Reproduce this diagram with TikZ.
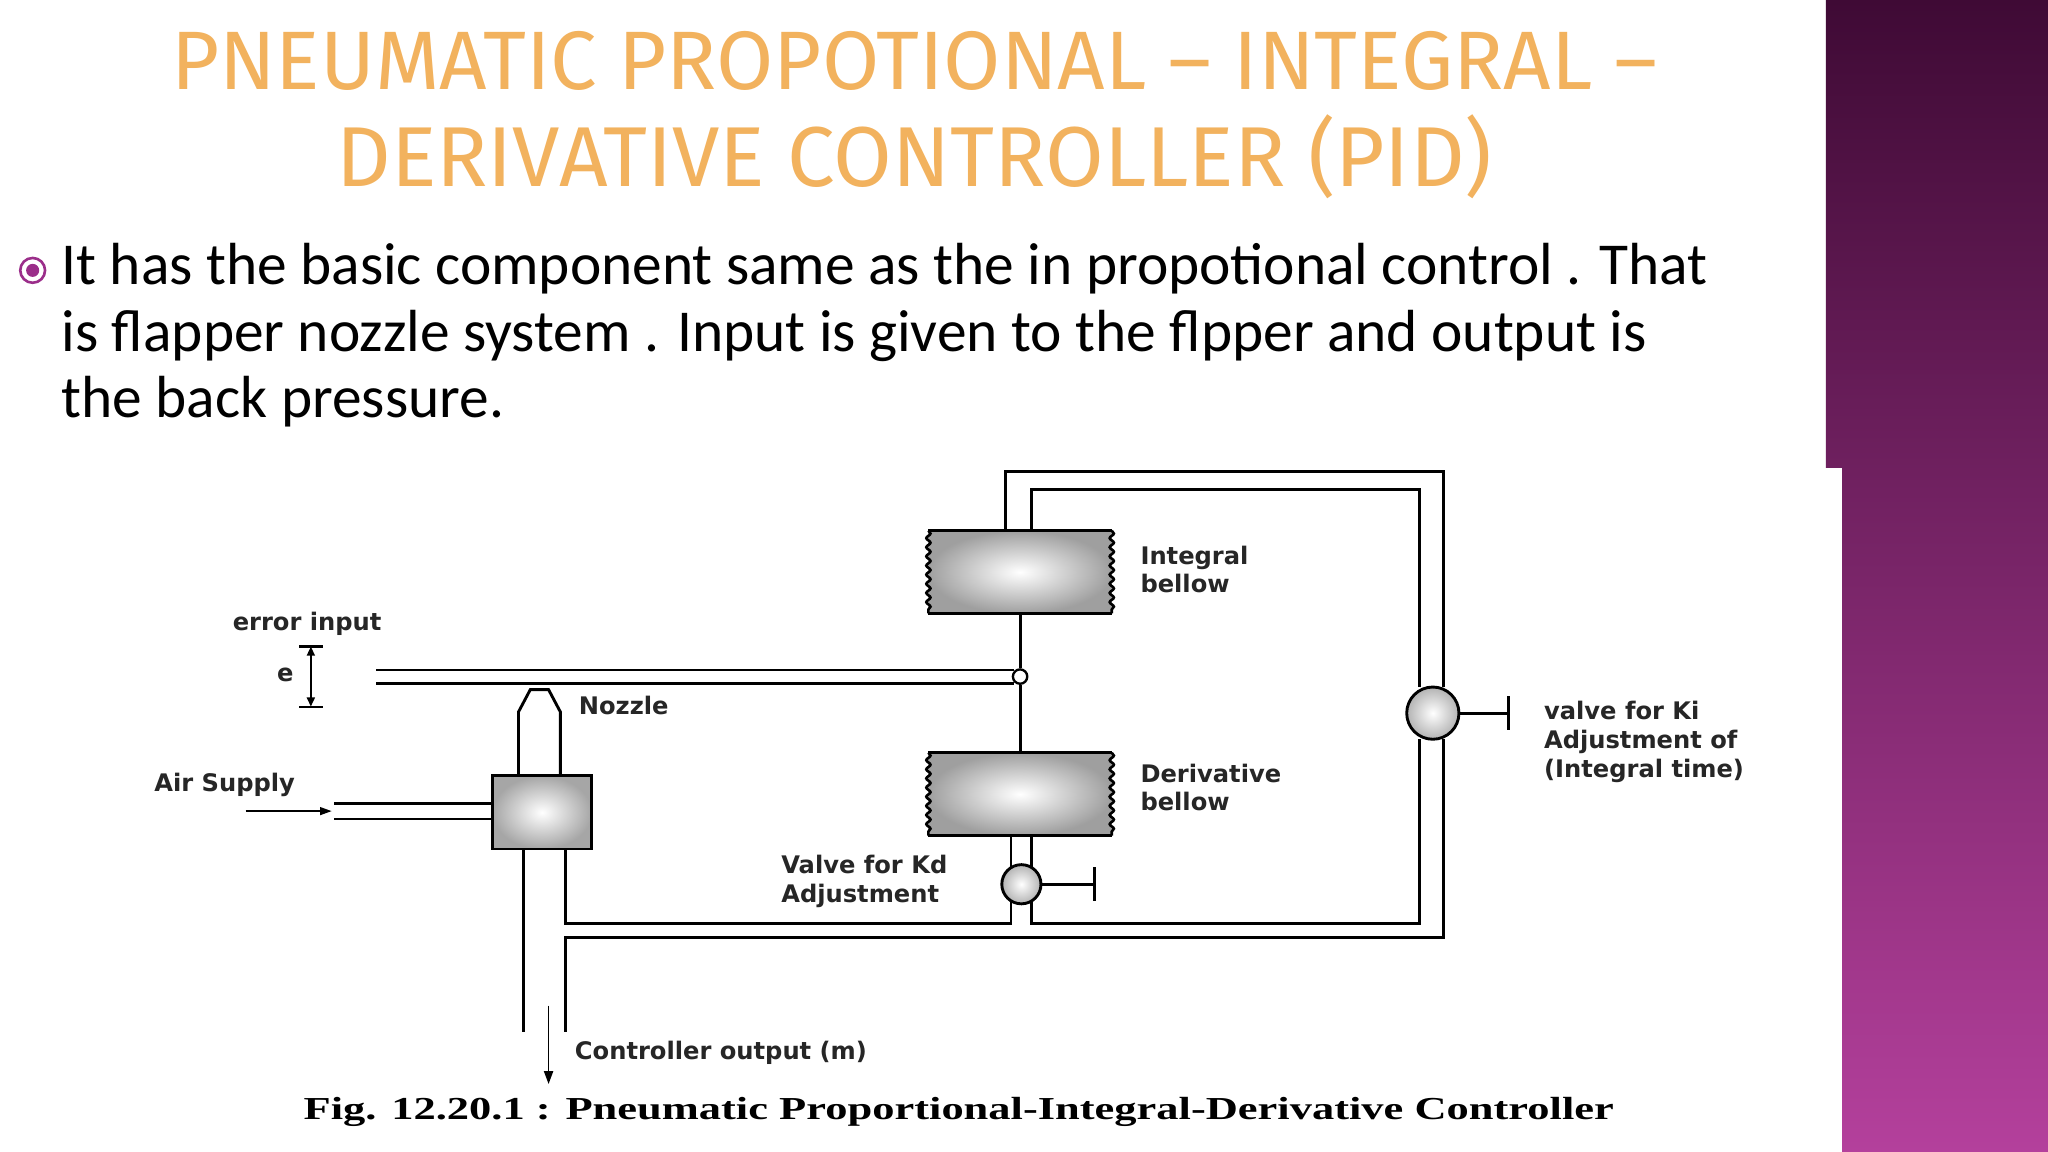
\documentclass[tikz,border=0pt]{standalone}
\usepackage{fontspec}
\setmainfont{DejaVu Sans}
\newfontfamily\titlefont{Fira Sans}
\newfontfamily\bodyfont{Carlito}
\newfontfamily\capfont{Liberation Serif}
\usetikzlibrary{decorations.pathmorphing,arrows.meta}
\definecolor{ttl}{HTML}{F2B25E}
\definecolor{pdark}{HTML}{3F0A35}
\definecolor{plight}{HTML}{B4409C}
\definecolor{bul}{HTML}{9B2E8A}
\tikzset{
  pipe/.style={line width=2.2pt,black},
  lbl/.style={font=\bfseries\fontsize{18.5}{22}\selectfont,anchor=west,align=left,inner sep=0pt,text=black!85},
  bellowbox/.style={draw=none,minimum width=140pt,minimum height=63pt,inner sep=0pt,shading=radial,inner color=white,outer color=gray!75},
  valve/.style={circle,draw,line width=2.2pt,shading=radial,inner color=white,outer color=gray!60,inner sep=0pt},
}
\begin{document}
\begin{tikzpicture}[x=1pt,y=-1pt]
\useasboundingbox (0,0) rectangle (1568,882);
\fill[white] (0,0) rectangle (1568,882);
\shade[top color=pdark,bottom color=plight] (1398,0) rectangle (1568,882);
\fill[white] (0,358) rectangle (1410,882);
% title
\node[text=ttl,font=\titlefont\fontsize{60}{60}\selectfont] (t1) at (700,47) {\resizebox{1138pt}{!}{PNEUMATIC PROPOTIONAL – INTEGRAL –}};
\node[text=ttl,font=\titlefont\fontsize{60}{60}\selectfont] (t2) at (700,120) {\resizebox{885pt}{!}{DERIVATIVE CONTROLLER (PID)}};
% bullet
\node[circle,draw=bul,line width=2pt,minimum size=19pt,inner sep=0pt] (bo) at (25,207) {};
\fill[bul] (bo) circle (5pt);
\node[anchor=north west,inner sep=0pt,align=left,font=\bodyfont\fontsize{45.5}{51}\selectfont] (body) at (47,186)
 {It has the basic component same as the in propotional control . That\\is flapper nozzle system . Input is given to the flpper and output is\\the back pressure.};
% bellows
\node[bellowbox] (ib) at (781,438) {};
\node[bellowbox] (db) at (781,608) {};
\foreach \b in {ib,db}{
  \draw[line width=2.2pt] (\b.south west) -- (\b.south east);
  \draw[line width=2.2pt] (\b.north west) -- (\b.north east);
  \draw[line width=2pt,decorate,decoration={snake,amplitude=1.6pt,segment length=7pt}] (\b.north west) -- (\b.south west);
  \draw[line width=2pt,decorate,decoration={snake,amplitude=1.6pt,segment length=7pt}] (\b.north east) -- (\b.south east);
}
% flapper
\coordinate (fl) at (288,513); \coordinate (fl2) at (288,523);
\node[circle,draw,line width=1.8pt,minimum size=11pt,inner sep=0pt] (piv) at (781,518) {};
\draw[pipe] (fl) -- (piv.north west |- fl);
\draw[pipe] (fl2) -- (piv.south west |- fl2);
\draw[pipe] (ib.south) -- (piv.north);
\draw[pipe] (piv.south) -- (db.north);
% error input
\node[lbl] (err) at (178,478) {error input};
\node[lbl] (e) at (212,517) {e};
\coordinate (ea) at (238,495); \coordinate (eb) at (238,541);
\draw[line width=1.6pt,{Triangle[length=7pt,width=6pt]}-{Triangle[length=7pt,width=6pt]}] (ea) -- (eb);
\draw[line width=1.6pt] ([xshift=-9pt]ea) -- ([xshift=9pt]ea) ([xshift=-9pt]eb) -- ([xshift=9pt]eb);
% relay
\node[draw,line width=2.2pt,minimum width=76pt,minimum height=56pt,inner sep=0pt,shading=radial,inner color=white,outer color=gray!70] (rel) at (415,622) {};
% nozzle
\draw[pipe] (397,594) -- (397,545) -- (406,528) -- (420,528) -- (429,545) -- (429,594);
\node[lbl] (noz) at (443,540) {Nozzle};
% air supply
\node[lbl] (air) at (118,601) {Air Supply};
\draw[pipe] (256,615) -- (377,615) (256,627) -- (377,627);
\coordinate (as) at (188,621); \coordinate (ae) at (254,621);
\draw[line width=1.4pt,-{Triangle[length=9pt,width=6pt]}] (as) -- (ae);
% valves
\node[valve,minimum size=30pt] (kd) at (782,677) {};
\node[valve,minimum size=40pt] (ki) at (1097,546) {};
\draw[pipe] (kd.east) -- (838,677) (838,664) -- (838,690);
\draw[pipe] (ki.east) -- (1155,546) (1155,533) -- (1155,559);
\node[lbl] (kdl) at (598,675) {Valve for Kd\\Adjustment};
% derivative lines
\draw[pipe] (774,640) -- (774,664) (790,640) -- (790,664);
\draw[pipe] (401,650) -- (401,790);
\draw[pipe] (433,650) -- (433,707) -- (774,707) -- (774,690);
\draw[pipe] (790,690) -- (790,707) -- (1087,707) -- (1087,566);
\draw[pipe] (1087,526) -- (1087,375) -- (790,375) -- (790,407);
\draw[pipe] (433,790) -- (433,718) -- (1105,718) -- (1105,566);
\draw[pipe] (1105,526) -- (1105,361) -- (770,361) -- (770,407);
% output
\coordinate (os) at (420,770); \coordinate (oe) at (420,830);
\draw[line width=1.4pt,-{Triangle[length=10pt,width=7pt]}] (os) -- (oe);
\node[lbl] (outl) at (440,806) {Controller output (m)};
% labels
\node[lbl] (il) at (873,436) {Integral\\bellow};
\node[lbl] (dl) at (873,603) {Derivative\\bellow};
\node[lbl] (kil) at (1182,568) {valve for Ki\\Adjustment of\\(Integral time)};
\node[font=\capfont\bfseries\fontsize{24}{24}\selectfont,inner sep=0pt] (cap) at (734,851) {\resizebox{1003pt}{17pt}{Fig. 12.20.1 : Pneumatic Proportional-Integral-Derivative Controller}};
\end{tikzpicture}
\end{document}
